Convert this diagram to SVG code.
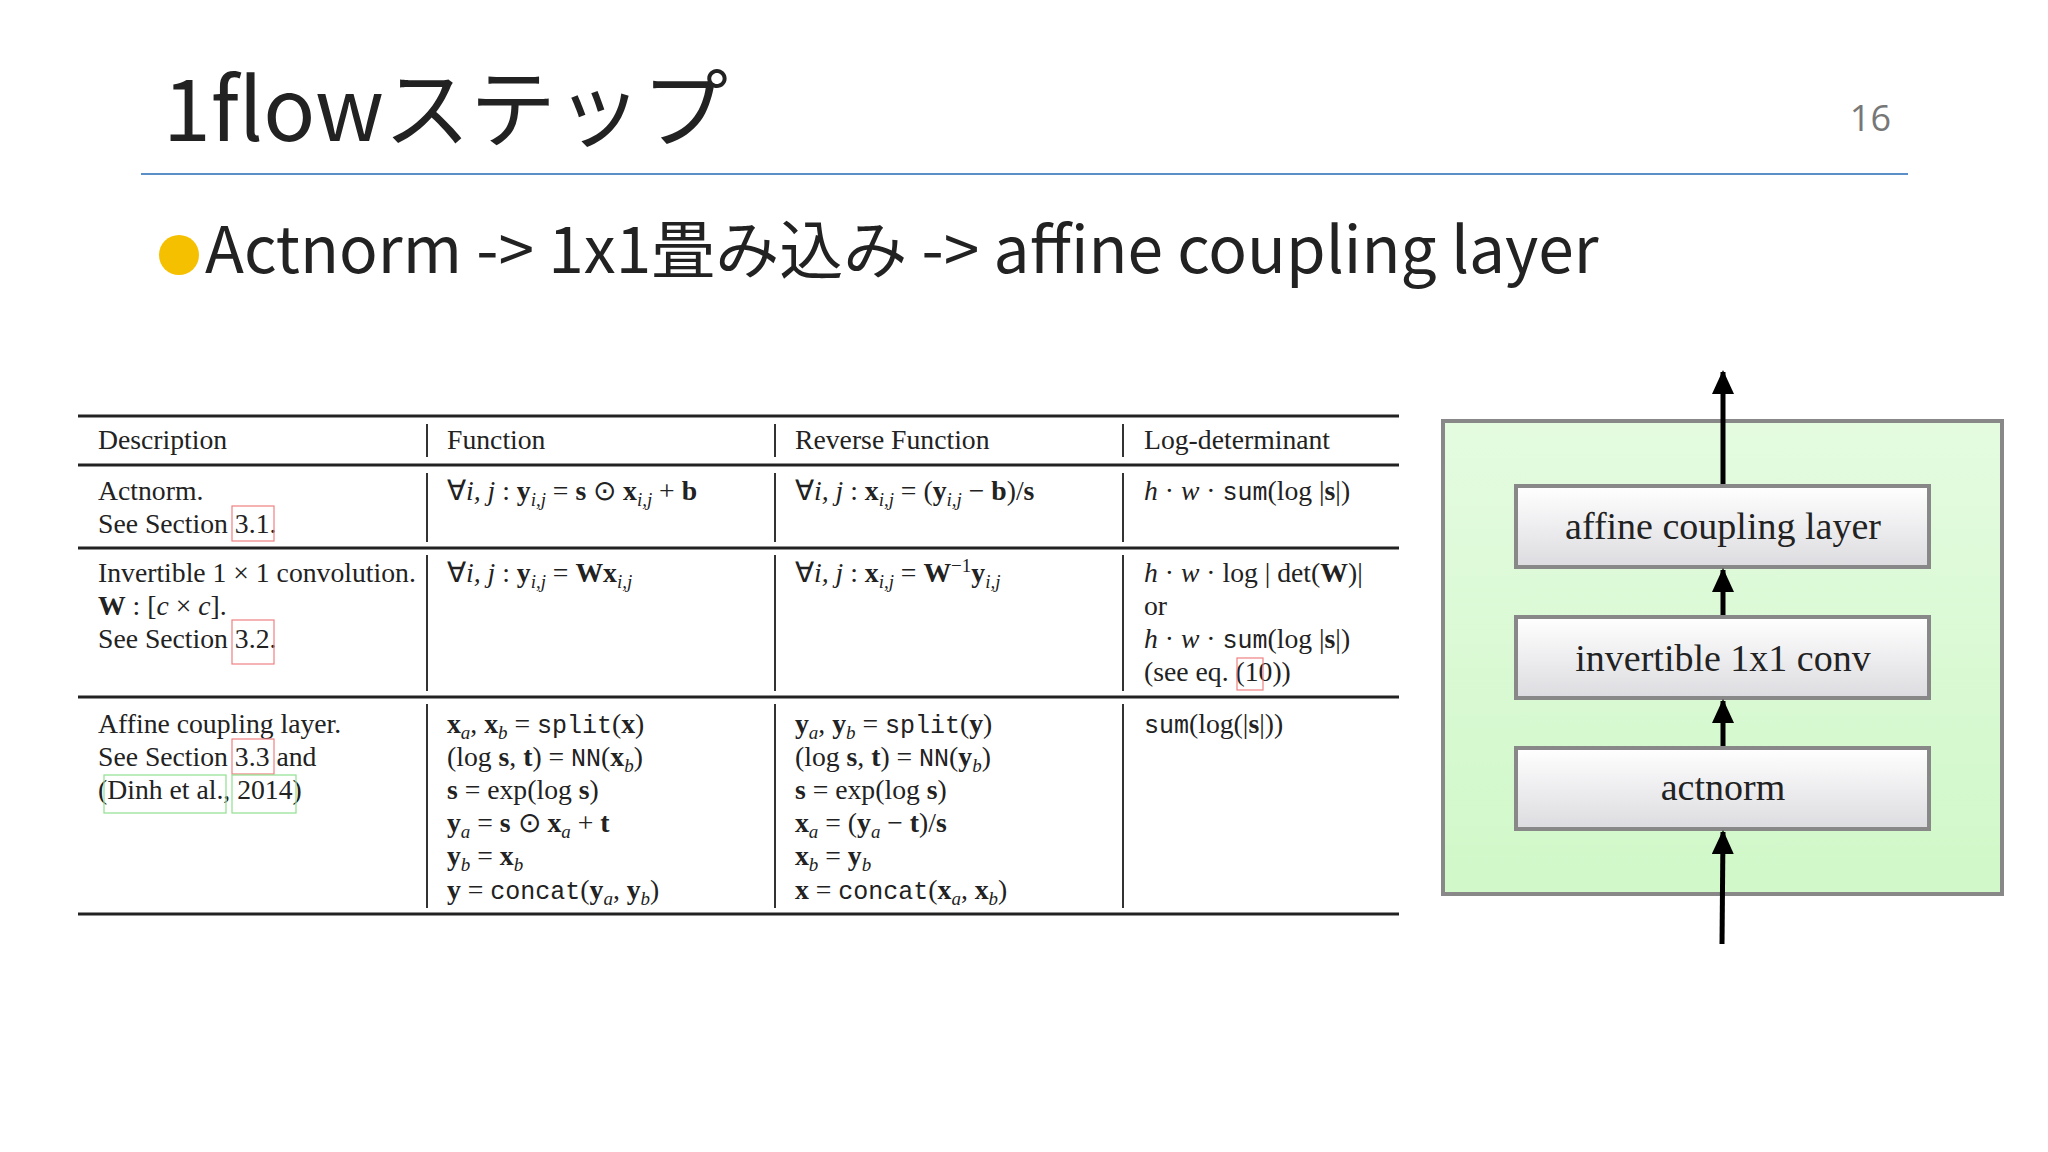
<svg xmlns="http://www.w3.org/2000/svg" width="2048" height="1152" viewBox="0 0 2048 1152">
<style>
.t{font-family:"Liberation Serif",serif;font-size:27.7px;fill:#222}
.b{font-weight:bold}
.i{font-style:italic}
.m{font-family:"Liberation Mono",monospace;font-size:25px}
.box{stroke:#888;stroke-width:4;fill:url(#gb)}
.bl{font-family:"Liberation Serif",serif;font-size:38px;fill:#222;text-anchor:middle}
.rl{stroke:#222;stroke-width:3}
.vl{stroke:#333;stroke-width:2}
.cr{fill:none;stroke:#f08080;stroke-width:1.2}
.cg{fill:none;stroke:#8fe08f;stroke-width:1.2}
</style>
<defs>
<linearGradient id="gb" x1="0" y1="0" x2="0" y2="1"><stop offset="0" stop-color="#ffffff"/><stop offset="1" stop-color="#dcdce0"/></linearGradient>
<linearGradient id="gg" x1="0" y1="0" x2="0" y2="1"><stop offset="0" stop-color="#e4fbe0"/><stop offset="1" stop-color="#d0f8c8"/></linearGradient>
<marker id="ah" markerWidth="24" markerHeight="22" refX="22" refY="11" orient="auto" markerUnits="userSpaceOnUse" viewBox="0 0 24 22"><path d="M0,0 L24,11 L0,22 Z" fill="#000" stroke="none"/></marker>
</defs>
<rect width="2048" height="1152" fill="#fff"/>
<g id="title">
<text x="163" y="141" font-family="'Noto Sans CJK JP',sans-serif" font-size="86" fill="#222">1flowステップ</text>
<text x="1891" y="131" text-anchor="end" font-family="'Open Sans',sans-serif" font-size="36" fill="#777">16</text>
<line x1="141" y1="174" x2="1908" y2="174" stroke="#5b8fc7" stroke-width="2"/>
</g>
<g id="bullet">
<circle cx="179" cy="255" r="20" fill="#f5c000"/>
<text x="205" y="273" font-family="'Noto Sans CJK JP',sans-serif" font-size="64" fill="#222">Actnorm -&gt; 1x1畳み込み -&gt; affine coupling layer</text>
</g>
<g id="table">
<line class="rl" x1="78" y1="416" x2="1399" y2="416"/>
<line class="rl" x1="78" y1="465" x2="1399" y2="465"/>
<line class="rl" x1="78" y1="548" x2="1399" y2="548"/>
<line class="rl" x1="78" y1="697" x2="1399" y2="697"/>
<line class="rl" x1="78" y1="914" x2="1399" y2="914"/>
<g class="vl">
<line x1="427" y1="424" x2="427" y2="457"/><line x1="775" y1="424" x2="775" y2="457"/><line x1="1123" y1="424" x2="1123" y2="457"/>
<line x1="427" y1="473" x2="427" y2="542"/><line x1="775" y1="473" x2="775" y2="542"/><line x1="1123" y1="473" x2="1123" y2="542"/>
<line x1="427" y1="555" x2="427" y2="691"/><line x1="775" y1="555" x2="775" y2="691"/><line x1="1123" y1="555" x2="1123" y2="691"/>
<line x1="427" y1="704" x2="427" y2="908"/><line x1="775" y1="704" x2="775" y2="908"/><line x1="1123" y1="704" x2="1123" y2="908"/>
</g>
<text class="t" x="98" y="449">Description</text>
<text class="t" x="447" y="449">Function</text>
<text class="t" x="795" y="449">Reverse Function</text>
<text class="t" x="1144" y="449">Log-determinant</text>
<text class="t" x="98" y="500">Actnorm.</text>
<text class="t" x="98" y="533">See Section 3.1.</text>
<text class="t" x="447" y="500">∀<tspan class="i">i, j</tspan> : <tspan class="b">y</tspan><tspan class="i" font-size="19" dy="6">i,j</tspan><tspan dy="-6"> = </tspan><tspan class="b">s</tspan> ⊙ <tspan class="b">x</tspan><tspan class="i" font-size="19" dy="6">i,j</tspan><tspan dy="-6"> + </tspan><tspan class="b">b</tspan></text>
<text class="t" x="795" y="500">∀<tspan class="i">i, j</tspan> : <tspan class="b">x</tspan><tspan class="i" font-size="19" dy="6">i,j</tspan><tspan dy="-6"> = (</tspan><tspan class="b">y</tspan><tspan class="i" font-size="19" dy="6">i,j</tspan><tspan dy="-6"> − </tspan><tspan class="b">b</tspan>)/<tspan class="b">s</tspan></text>
<text class="t" x="1144" y="500"><tspan class="i">h</tspan> · <tspan class="i">w</tspan> · <tspan class="m">sum</tspan>(log |<tspan class="b">s</tspan>|)</text>
<text class="t" x="98" y="582">Invertible 1 × 1 convolution.</text>
<text class="t" x="98" y="615"><tspan class="b">W</tspan> : [<tspan class="i">c</tspan> × <tspan class="i">c</tspan>].</text>
<text class="t" x="98" y="648">See Section 3.2.</text>
<text class="t" x="447" y="582">∀<tspan class="i">i, j</tspan> : <tspan class="b">y</tspan><tspan class="i" font-size="19" dy="6">i,j</tspan><tspan dy="-6"> = </tspan><tspan class="b">Wx</tspan><tspan class="i" font-size="19" dy="6">i,j</tspan></text>
<text class="t" x="795" y="582">∀<tspan class="i">i, j</tspan> : <tspan class="b">x</tspan><tspan class="i" font-size="19" dy="6">i,j</tspan><tspan dy="-6"> = </tspan><tspan class="b">W</tspan><tspan font-size="19" dy="-10">−1</tspan><tspan class="b" dy="10">y</tspan><tspan class="i" font-size="19" dy="6">i,j</tspan></text>
<text class="t" x="1144" y="582"><tspan class="i">h</tspan> · <tspan class="i">w</tspan> · log | det(<tspan class="b">W</tspan>)|</text>
<text class="t" x="1144" y="615">or</text>
<text class="t" x="1144" y="648"><tspan class="i">h</tspan> · <tspan class="i">w</tspan> · <tspan class="m">sum</tspan>(log |<tspan class="b">s</tspan>|)</text>
<text class="t" x="1144" y="681">(see eq. (10))</text>
<text class="t" x="98" y="733">Affine coupling layer.</text>
<text class="t" x="98" y="766">See Section 3.3 and</text>
<text class="t" x="98" y="799">(Dinh et al., 2014)</text>
<text class="t" x="447" y="733"><tspan class="b">x</tspan><tspan class="i" font-size="19" dy="6">a</tspan><tspan dy="-6">, </tspan><tspan class="b">x</tspan><tspan class="i" font-size="19" dy="6">b</tspan><tspan dy="-6"> = </tspan><tspan class="m">split</tspan>(<tspan class="b">x</tspan>)</text>
<text class="t" x="447" y="766">(log <tspan class="b">s</tspan>, <tspan class="b">t</tspan>) = <tspan class="m">NN</tspan>(<tspan class="b">x</tspan><tspan class="i" font-size="19" dy="6">b</tspan><tspan dy="-6">)</tspan></text>
<text class="t" x="447" y="799"><tspan class="b">s</tspan> = exp(log <tspan class="b">s</tspan>)</text>
<text class="t" x="447" y="832"><tspan class="b">y</tspan><tspan class="i" font-size="19" dy="6">a</tspan><tspan dy="-6"> = </tspan><tspan class="b">s</tspan> ⊙ <tspan class="b">x</tspan><tspan class="i" font-size="19" dy="6">a</tspan><tspan dy="-6"> + </tspan><tspan class="b">t</tspan></text>
<text class="t" x="447" y="865"><tspan class="b">y</tspan><tspan class="i" font-size="19" dy="6">b</tspan><tspan dy="-6"> = </tspan><tspan class="b">x</tspan><tspan class="i" font-size="19" dy="6">b</tspan></text>
<text class="t" x="447" y="899"><tspan class="b">y</tspan> = <tspan class="m">concat</tspan>(<tspan class="b">y</tspan><tspan class="i" font-size="19" dy="6">a</tspan><tspan dy="-6">, </tspan><tspan class="b">y</tspan><tspan class="i" font-size="19" dy="6">b</tspan><tspan dy="-6">)</tspan></text>
<text class="t" x="795" y="733"><tspan class="b">y</tspan><tspan class="i" font-size="19" dy="6">a</tspan><tspan dy="-6">, </tspan><tspan class="b">y</tspan><tspan class="i" font-size="19" dy="6">b</tspan><tspan dy="-6"> = </tspan><tspan class="m">split</tspan>(<tspan class="b">y</tspan>)</text>
<text class="t" x="795" y="766">(log <tspan class="b">s</tspan>, <tspan class="b">t</tspan>) = <tspan class="m">NN</tspan>(<tspan class="b">y</tspan><tspan class="i" font-size="19" dy="6">b</tspan><tspan dy="-6">)</tspan></text>
<text class="t" x="795" y="799"><tspan class="b">s</tspan> = exp(log <tspan class="b">s</tspan>)</text>
<text class="t" x="795" y="832"><tspan class="b">x</tspan><tspan class="i" font-size="19" dy="6">a</tspan><tspan dy="-6"> = (</tspan><tspan class="b">y</tspan><tspan class="i" font-size="19" dy="6">a</tspan><tspan dy="-6"> − </tspan><tspan class="b">t</tspan>)/<tspan class="b">s</tspan></text>
<text class="t" x="795" y="865"><tspan class="b">x</tspan><tspan class="i" font-size="19" dy="6">b</tspan><tspan dy="-6"> = </tspan><tspan class="b">y</tspan><tspan class="i" font-size="19" dy="6">b</tspan></text>
<text class="t" x="795" y="899"><tspan class="b">x</tspan> = <tspan class="m">concat</tspan>(<tspan class="b">x</tspan><tspan class="i" font-size="19" dy="6">a</tspan><tspan dy="-6">, </tspan><tspan class="b">x</tspan><tspan class="i" font-size="19" dy="6">b</tspan><tspan dy="-6">)</tspan></text>
<text class="t" x="1144" y="733"><tspan class="m">sum</tspan>(log(|<tspan class="b">s</tspan>|))</text>
<rect class="cr" x="232" y="506" width="42" height="35"/>
<rect class="cr" x="232" y="620" width="42" height="44"/>
<rect class="cr" x="1237" y="658" width="26" height="32"/>
<rect class="cr" x="232" y="739" width="42" height="35"/>
<rect class="cg" x="104" y="775" width="122" height="38"/>
<rect class="cg" x="232" y="775" width="64" height="38"/>
</g>
<g id="frame"><rect x="1443" y="421" width="559" height="473" fill="url(#gg)" stroke="#888" stroke-width="4"/></g>
<g id="n_affine"><rect class="box" x="1516" y="486" width="413" height="81"/><text class="bl" x="1723" y="539">affine coupling layer</text></g>
<g id="n_conv"><rect class="box" x="1516" y="617" width="413" height="81"/><text class="bl" x="1723" y="671">invertible 1x1 conv</text></g>
<g id="n_actnorm"><rect class="box" x="1516" y="748" width="413" height="81"/><text class="bl" x="1723" y="800">actnorm</text></g>
<g id="connectors" stroke="#000" stroke-width="5">
<line x1="1723" y1="484" x2="1723" y2="372" marker-end="url(#ah)"/>
<line x1="1723" y1="615" x2="1723" y2="570" marker-end="url(#ah)"/>
<line x1="1723" y1="746" x2="1723" y2="701" marker-end="url(#ah)"/>
<line x1="1722" y1="944" x2="1723" y2="832" marker-end="url(#ah)"/>
</g>
</svg>
